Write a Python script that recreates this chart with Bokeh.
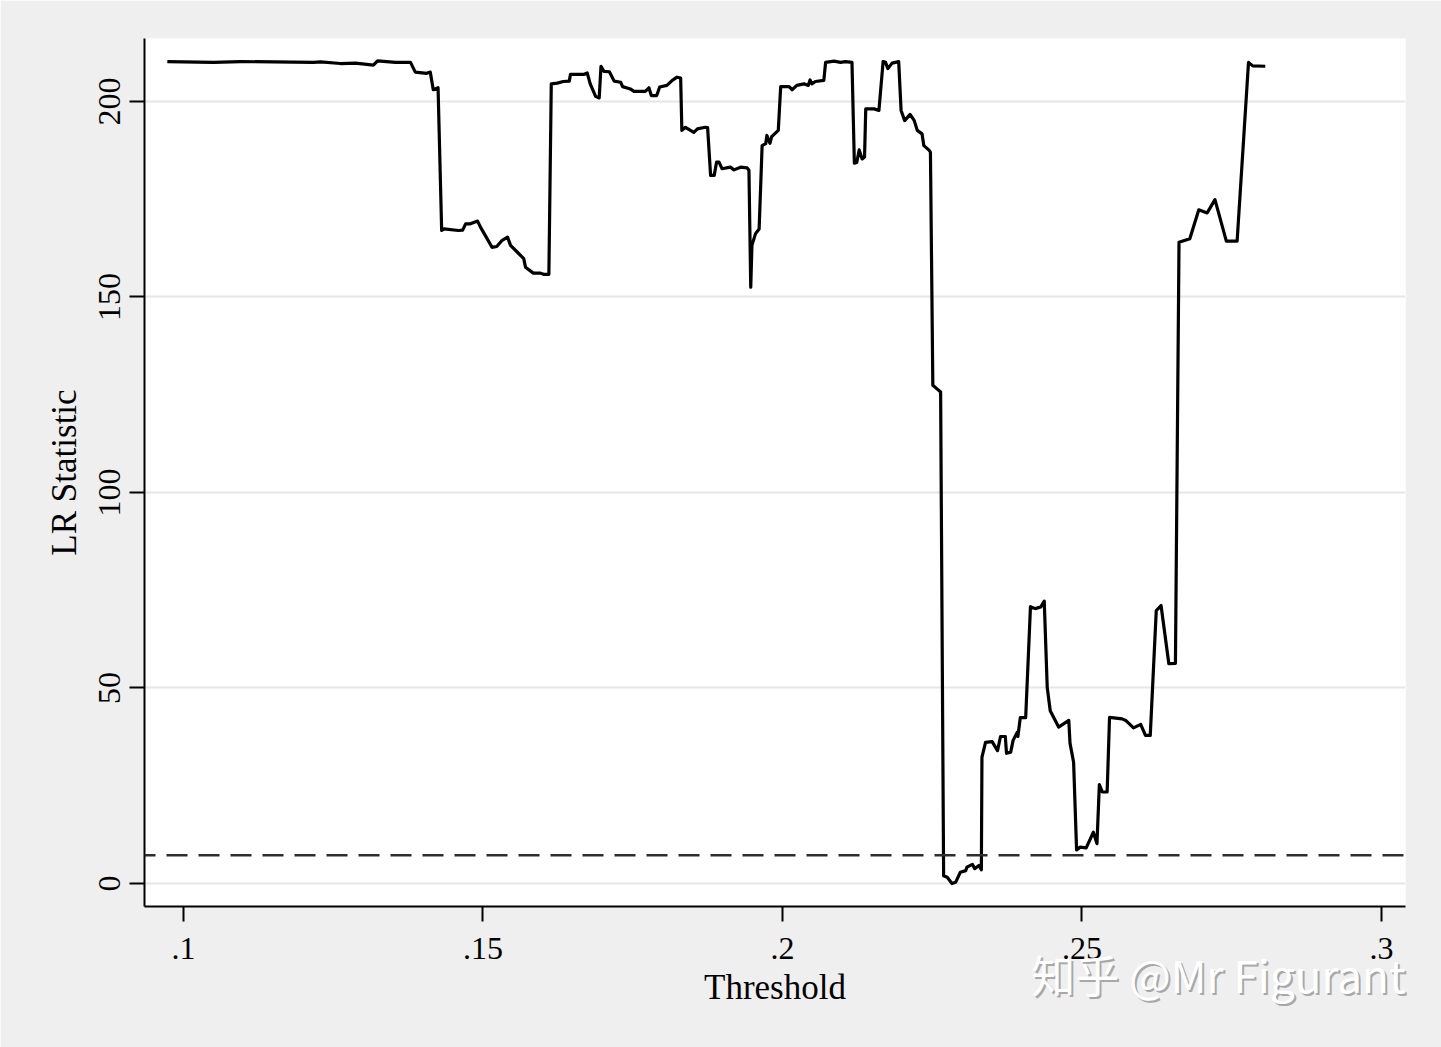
from bokeh.plotting import figure
from bokeh.models import Range1d, FixedTicker, Span, Title
from bokeh.embed import file_html
from bokeh.resources import INLINE

# ---- data ----
threshold = [
    0.0973, 0.1050, 0.1095, 0.1217, 0.1229, 0.1262, 0.1287, 0.1317, 0.1324, 0.1354,
    0.1379, 0.1387, 0.1406, 0.1412, 0.1417, 0.1425, 0.1431, 0.1435, 0.1459, 0.1466,
    0.1471, 0.1479, 0.1491, 0.1496, 0.1504, 0.1515, 0.1523, 0.1532, 0.1541, 0.1546,
    0.1557, 0.1568, 0.1571, 0.1584, 0.1596, 0.1601, 0.1610, 0.1614, 0.1624, 0.1634,
    0.1644, 0.1646, 0.1668, 0.1674, 0.1679, 0.1688, 0.1694, 0.1697, 0.1702, 0.1711,
    0.1719, 0.1730, 0.1733, 0.1746, 0.1752, 0.1771, 0.1777, 0.1781, 0.1790, 0.1795,
    0.1807, 0.1816, 0.1824, 0.1830, 0.1832, 0.1838, 0.1852, 0.1858, 0.1871, 0.1875,
    0.1880, 0.1886, 0.1890, 0.1894, 0.1899, 0.1913, 0.1919, 0.1930, 0.1941, 0.1944,
    0.1947, 0.1949, 0.1955, 0.1961, 0.1966, 0.1972, 0.1974, 0.1979, 0.1982, 0.1993,
    0.1997, 0.2011, 0.2016, 0.2024, 0.2036, 0.2043, 0.2046, 0.2049, 0.2055, 0.2069,
    0.2072, 0.2086, 0.2097, 0.2105, 0.2116, 0.2120, 0.2124, 0.2128, 0.2133, 0.2137,
    0.2139, 0.2153, 0.2161, 0.2168, 0.2172, 0.2176, 0.2183, 0.2194, 0.2198, 0.2204,
    0.2213, 0.2220, 0.2225, 0.2233, 0.2236, 0.2245, 0.2247, 0.2251, 0.2258, 0.2264,
    0.2269, 0.2275, 0.2283, 0.2289, 0.2297, 0.2306, 0.2308, 0.2317, 0.2321, 0.2328,
    0.2332, 0.2333, 0.2339, 0.2350, 0.2359, 0.2364, 0.2372, 0.2374, 0.2381, 0.2385,
    0.2392, 0.2393, 0.2397, 0.2406, 0.2414, 0.2422, 0.2431, 0.2437, 0.2442, 0.2447,
    0.2461, 0.2478, 0.2480, 0.2486, 0.2491, 0.2497, 0.2507, 0.2519, 0.2525, 0.2529,
    0.2534, 0.2542, 0.2546, 0.2567, 0.2573, 0.2586, 0.2598, 0.2606, 0.2614, 0.2624,
    0.2632, 0.2645, 0.2656, 0.2662, 0.2680, 0.2695, 0.2709, 0.2722, 0.2741, 0.2759,
    0.2778, 0.2785, 0.2806,
]

lr_stat = [
    210.2, 210.0, 210.2, 210.0, 210.1, 209.7, 209.8, 209.3, 210.4, 210.0,
    210.0, 207.5, 207.2, 207.5, 203.0, 203.5, 167.0, 167.4, 167.0, 167.1,
    168.7, 168.7, 169.4, 167.8, 165.7, 162.7, 162.9, 164.5, 165.3, 163.2,
    161.5, 159.8, 157.6, 156.1, 156.1, 155.8, 155.8, 204.5, 204.7, 205.1,
    205.2, 206.9, 206.9, 207.3, 204.5, 201.3, 200.9, 209.0, 207.7, 207.6,
    205.2, 204.9, 203.8, 203.2, 202.6, 202.6, 203.5, 201.5, 201.5, 203.7,
    204.1, 205.4, 206.2, 206.0, 192.6, 193.4, 192.1, 193.0, 193.4, 193.3,
    181.1, 181.1, 184.5, 184.5, 182.8, 183.2, 182.5, 183.2, 183.0, 182.4,
    152.5, 163.2, 166.2, 167.4, 188.7, 189.2, 191.3, 189.3, 191.0, 192.6,
    203.8, 203.8, 203.0, 204.1, 204.5, 204.1, 205.5, 204.5, 205.1, 205.4,
    210.0, 210.3, 210.0, 210.2, 210.0, 184.2, 184.4, 187.6, 185.3, 185.8,
    198.1, 198.1, 197.7, 210.2, 210.0, 208.4, 209.8, 210.2, 197.7, 195.1,
    196.7, 195.1, 192.6, 191.7, 188.7, 187.5, 187.0, 127.4, 126.5, 125.7,
    2.0, 1.6, 0.0, 0.3, 2.9, 3.3, 4.2, 4.9, 3.8, 4.6,
    3.5, 32.3, 36.1, 36.3, 34.0, 37.6, 37.6, 33.3, 33.6, 36.6,
    38.7, 37.6, 42.4, 42.4, 70.8, 70.3, 70.7, 72.2, 50.1, 44.2,
    40.0, 41.7, 35.9, 31.0, 8.6, 9.3, 9.1, 13.1, 10.2, 25.3,
    23.4, 23.4, 42.5, 42.1, 41.7, 39.8, 40.7, 37.9, 37.9, 69.8,
    71.1, 56.2, 56.3, 164.0, 164.9, 172.3, 171.5, 174.9, 164.3, 164.3,
    210.0, 209.1, 209.0,
]

critical_value = 7.2

x_ticks = [0.1, 0.15, 0.2, 0.25, 0.3]
x_tick_labels = [".1", ".15", ".2", ".25", ".3"]
y_ticks = [0, 50, 100, 150, 200]
y_tick_labels = ["0", "50", "100", "150", "200"]

x_title = "Threshold"
y_title = "LR Statistic"
watermark = "知乎 @Mr Figurant"

# ---- figure ----
FONT = "Liberation Serif"

p = figure(
    width=1441, height=1047,
    x_range=Range1d(0.09349, 0.30401),
    y_range=Range1d(-5.88, 216.1),
    output_backend="svg", toolbar_location=None,
    min_border_left=144, min_border_right=36,
    min_border_top=38, min_border_bottom=141,
)
p.background_fill_color = "white"
p.border_fill_color = "#EFEFEF"
p.outline_line_color = None

# grid
p.xgrid.grid_line_color = None
p.ygrid.ticker = FixedTicker(ticks=y_ticks)
p.ygrid.grid_line_color = "#E6E6E6"
p.ygrid.grid_line_width = 2

# axes
for ax in (p.xaxis[0], p.yaxis[0]):
    ax.axis_line_color = "black"
    ax.axis_line_width = 2
    ax.major_tick_line_color = "black"
    ax.major_tick_line_width = 2
    ax.major_tick_out = 15
    ax.major_tick_in = 0
    ax.minor_tick_line_color = None
    ax.major_label_text_font = FONT
    ax.major_label_text_font_size = "32px"
    ax.major_label_text_color = "black"
    ax.axis_label_text_font = FONT
    ax.axis_label_text_font_size = "35px"
    ax.axis_label_text_font_style = "normal"
    ax.axis_label_text_color = "black"

p.xaxis.ticker = FixedTicker(ticks=x_ticks)
p.xaxis.major_label_overrides = dict(zip(x_ticks, x_tick_labels))
p.xaxis.axis_label = x_title
p.xaxis.major_label_standoff = 16
p.xaxis.axis_label_standoff = 6

p.yaxis.ticker = FixedTicker(ticks=y_ticks)
p.yaxis.major_label_overrides = dict(zip(y_ticks, y_tick_labels))
p.yaxis.major_label_orientation = "vertical"
p.yaxis.axis_label = y_title
p.yaxis.major_label_standoff = 9
p.yaxis.axis_label_standoff = 13

# critical value line
p.add_layout(Span(location=critical_value, dimension="width",
                  line_color="#2E2E2E", line_width=2.5,
                  line_dash="21 11", line_dash_offset=10))

# LR statistic
p.line(threshold, lr_stat, line_color="black", line_width=3.2, line_join="round")

# watermark (shadow + white text), placed in the bottom panel
for colour, off, so in (("#A8A8A8", -2, -132), ("white", 0, -136)):
    p.add_layout(Title(text=watermark, align="right", offset=off,
                       vertical_align="top", standoff=so,
                       text_font="Noto Sans CJK SC", text_font_size="44px",
                       text_font_style="normal", text_color=colour), "below")

open("out.html", "w").write(file_html(p, INLINE))
